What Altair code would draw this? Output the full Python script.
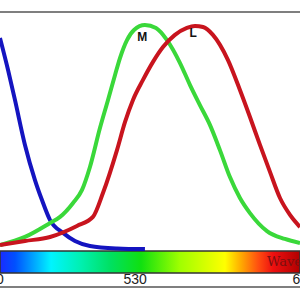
import altair as alt
import pandas as pd

# Wavelength (nm) and relative sensitivity
s_lam = [426, 432.2, 437.5, 445.2, 452.9, 458.3, 464.5, 474.5, 483.7, 495.2, 516, 537.5]
s_val = [0.942, 0.800, 0.667, 0.467, 0.311, 0.222, 0.133, 0.076, 0.040, 0.018, 0.007, 0.004]

m_lam = [426, 445.2, 464.5, 472.2, 482.2, 489.1, 495.2, 502.9, 509.1, 514.5, 518.3, 523.7,
         529.1, 537.5, 546, 554.5, 564.5, 572.2, 579.8, 587.5, 595.2, 602.9, 610.6, 618.3,
         631.4, 645.2, 656.8]
m_val = [0.022, 0.058, 0.12, 0.147, 0.209, 0.267, 0.369, 0.542, 0.667, 0.778, 0.853, 0.933,
         0.978, 1.0, 0.987, 0.933, 0.831, 0.733, 0.644, 0.556, 0.444, 0.324, 0.231, 0.164,
         0.084, 0.049, 0.031]

l_lam = [426, 445.2, 464.5, 485.2, 497.5, 505.2, 516, 522.2, 528.3, 536, 543.7, 551.4,
         560.6, 569.8, 576, 582.2, 589.8, 601.4, 610.6, 618.3, 626, 633.7, 641.4, 649.1,
         656.8]
l_val = [0.022, 0.040, 0.058, 0.107, 0.147, 0.253, 0.444, 0.569, 0.667, 0.756, 0.836, 0.902,
         0.956, 0.987, 0.996, 0.991, 0.956, 0.844, 0.711, 0.591, 0.467, 0.347, 0.231, 0.156,
         0.102]

tick_vals = [420, 530, 660]
tick_labels = ["420", "530", "660"]

spectrum_offsets = [0.0, 0.05, 0.17, 0.27, 0.37, 0.47, 0.60, 0.75, 0.80, 0.86, 0.91, 1.0]
spectrum_colors = ["#1a2cff", "#0050ff", "#00f4ff", "#00f0b0", "#00e060", "#10e010",
                   "#a0ff00", "#ffff00", "#ffb000", "#ff5010", "#ee1010", "#b00000"]

cone_names = ["S", "M", "L"]
cone_colors = ["#1414c0", "#3ad83a", "#c8141e"]

LAM_DOMAIN = [426, 656.8]
S_DOMAIN = [-0.2222, 1.1111]

rows = []
for name, lams, vals in [("S", s_lam, s_val), ("M", m_lam, m_val), ("L", l_lam, l_val)]:
    for i, (a, b) in enumerate(zip(lams, vals)):
        rows.append({"cone": name, "lam": a, "s": b, "order": i})
curves = pd.DataFrame(rows)

x = alt.X("lam:Q", scale=alt.Scale(domain=LAM_DOMAIN, nice=False, zero=False), axis=None)
y = alt.Y("s:Q", scale=alt.Scale(domain=S_DOMAIN, nice=False, zero=False), axis=None)

lines = alt.Chart(curves).mark_line(strokeWidth=4, interpolate="monotone", clip=True).encode(
    x=x, y=y, detail="cone:N", order="order:Q",
    color=alt.Color("cone:N", scale=alt.Scale(domain=cone_names, range=cone_colors), legend=None),
)

grad = alt.LinearGradient(
    gradient="linear", x1=0, x2=1, y1=0, y2=0,
    stops=[alt.GradientStop(offset=o, color=c) for o, c in zip(spectrum_offsets, spectrum_colors)],
)
bar_df = pd.DataFrame({"lam": [LAM_DOMAIN[0]], "lam2": [LAM_DOMAIN[1]], "s": [-0.0044], "s2": [-0.102]})
bar = alt.Chart(bar_df).mark_rect(color=grad, stroke="#333333", strokeWidth=1.5).encode(
    x=x, x2="lam2:Q", y=y, y2="s2:Q"
)

word_df = pd.DataFrame({"lam": [631.4], "s": [-0.053], "t": ["Wavelength"]})
word = alt.Chart(word_df).mark_text(align="left", baseline="middle", font="DejaVu Serif",
                                    fontSize=13, color="#7a1010", fontWeight=300).encode(
    x=x, y=y, text="t:N")

tick_df = pd.DataFrame({"lam": tick_vals, "s": [-0.133] * 3, "t": tick_labels})
ticks = alt.Chart(tick_df).mark_text(align="center", baseline="middle", font="Liberation Sans",
                                     fontSize=14, color="#222222").encode(x=x, y=y, text="t:N")

rule_df = pd.DataFrame({"lam": [LAM_DOMAIN[0], LAM_DOMAIN[0]], "lam2": [LAM_DOMAIN[1], LAM_DOMAIN[1]],
                        "s": [1.058, -0.164], "c": ["top", "bottom"]})
rules = alt.Chart(rule_df).mark_rule(strokeWidth=1.5, color="#555555").encode(x=x, x2="lam2:Q", y=y)

lab_df = pd.DataFrame({"lam": [535.4, 574.6], "s": [0.947, 0.964], "t": ["M", "L"]})
labels = alt.Chart(lab_df).mark_text(align="center", baseline="middle", font="Liberation Sans",
                                     fontSize=12, fontWeight="bold", color="#111111").encode(
    x=x, y=y, text="t:N")

chart = alt.layer(rules, bar, word, ticks, lines, labels).properties(
    width=300, height=300, autosize=alt.AutoSizeParams(type="none"), padding=0,
    background="white",
).configure_view(stroke=None)

chart.save("out.html", embed_options={"renderer": "svg", "actions": False})
